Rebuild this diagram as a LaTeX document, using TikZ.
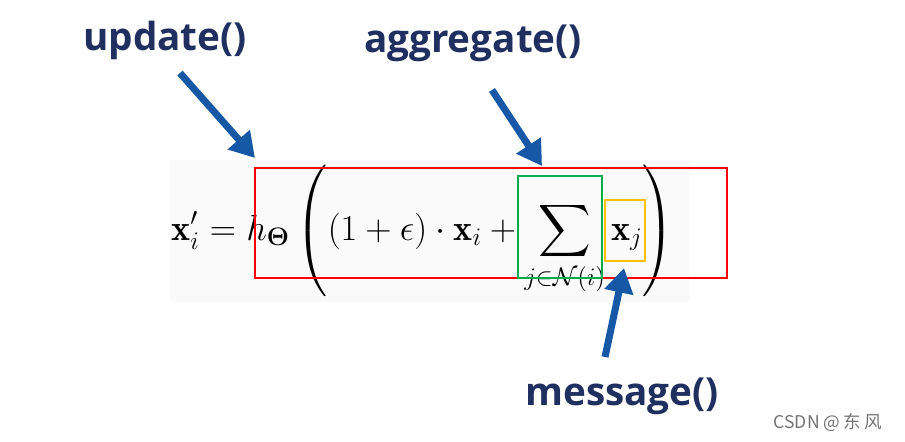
\documentclass[tikz,border=0pt]{standalone}
\usepackage{amsmath}
\usepackage{fontspec}
\setsansfont{Open Sans}
\newfontfamily\cjk{Noto Sans CJK SC}
\usetikzlibrary{arrows.meta}
\definecolor{navy}{RGB}{31,48,96}
\definecolor{arrowblue}{RGB}{22,88,166}
\definecolor{boxgreen}{RGB}{0,176,80}
\definecolor{boxyellow}{RGB}{255,192,0}
\tikzset{
  fnlabel/.style={font=\sffamily\bfseries\fontsize{22}{26}\selectfont, text=navy},
  bigarrow/.style={arrowblue, line width=4pt, -{Triangle[length=14pt,width=16pt]}},
  markbox/.style={draw, line width=1.6pt, inner sep=0pt}
}
\begin{document}
\begin{tikzpicture}[x=0.02cm, y=-0.02cm]
		\useasboundingbox (0,0) rectangle (905,441);
		
		% Formula background
		\fill[black!2] (170,160) rectangle (690,302);
		\node (formula) at (423,231) {\fontsize{20.5}{24}\selectfont
			$\displaystyle \mathbf{x}_i' = h_{\boldsymbol{\Theta}} \left( (1+\epsilon)\cdot\mathbf{x}_i + \sum_{j\in\mathcal{N}(i)} \mathbf{x}_j \right)$};
		
		% Boxes
		\draw[markbox, red] (255,168) rectangle (727,278);
		\draw[markbox, boxgreen] (518,176) rectangle (602,278);
		\draw[markbox, boxyellow] (605,200) rectangle (645,261);
		
		% Labels
		\node[fnlabel] (update) at (165,40) {update()};
		\node[fnlabel] (aggregate) at (473,43) {aggregate()};
		\node[fnlabel] (message) at (622,396) {message()};
		
		% Arrows
		\draw[bigarrow] (180,73) -- (255,158);
		\draw[bigarrow] (492,90) -- (542,166);
		\draw[bigarrow] (605,357) -- (624,268);
		
		% Watermark
		\node[text=black!55, font=\cjk\fontsize{10}{12}\selectfont] (mark) at (828,423) {CSDN @\,东 风};
	\end{tikzpicture}
\end{document}
